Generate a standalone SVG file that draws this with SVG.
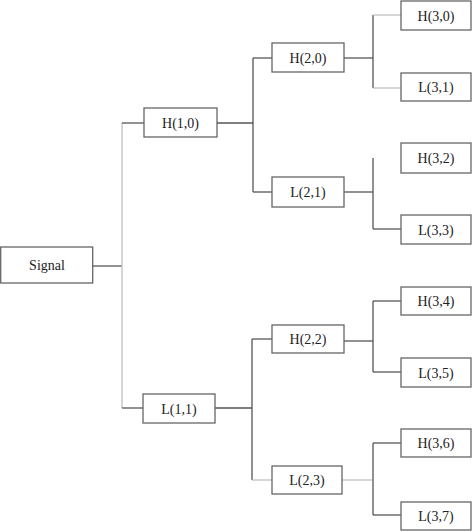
<svg xmlns="http://www.w3.org/2000/svg" width="474" height="532" viewBox="0 0 474 532">
<style>
.box{fill:#fff;stroke:#666;stroke-width:1.3}
.t{font-family:'Liberation Serif','Tinos','DejaVu Serif',serif;font-size:14px;fill:#222;text-anchor:middle}
.c{fill:none;stroke:#555;stroke-width:1.3}
.cl{fill:none;stroke:#bbb;stroke-width:1.2}
</style>
<rect width="474" height="532" fill="#fff"/>
<g id="connectors">
<path class="c" d="M93 266H122"/>
<path class="cl" d="M122 123V408"/>
<path class="c" d="M122 123H144"/>
<path class="c" d="M122 408H143"/>
<path class="c" d="M217 123H253"/>
<path class="c" d="M253 58V192"/>
<path class="c" d="M253 58H272"/>
<path class="c" d="M253 192H272"/>
<path class="c" d="M215 408H252"/>
<path class="c" d="M252 339V480"/>
<path class="c" d="M252 339H272"/>
<path class="cl" d="M252 480H272"/>
<path class="c" d="M344 58H373"/>
<path class="c" d="M373 15V88"/>
<path class="cl" d="M373 15H401"/>
<path class="cl" d="M373 88H401"/>
<path class="c" d="M344 192H373"/>
<path class="c" d="M373 158V229"/>
<path class="c" d="M373 229H401"/>
<path class="c" d="M344 341H373"/>
<path class="c" d="M373 301V372"/>
<path class="c" d="M373 301H401"/>
<path class="c" d="M373 372H401"/>
<path class="cl" d="M342 480H373"/>
<path class="c" d="M373 443V515"/>
<path class="c" d="M373 443H401"/>
<path class="c" d="M373 515H401"/>
</g>
<g id="signal"><rect class="box" x="0.7" y="247" width="92" height="36"/><text class="t" x="47" y="270">Signal</text></g>
<g id="h10"><rect class="box" x="144" y="108" width="73" height="29"/><text class="t" x="180.5" y="127.5">H(1,0)</text></g>
<g id="l11"><rect class="box" x="143" y="394" width="72" height="29"/><text class="t" x="179" y="413.5">L(1,1)</text></g>
<g id="h20"><rect class="box" x="272" y="43" width="72" height="29"/><text class="t" x="308" y="62.5">H(2,0)</text></g>
<g id="l21"><rect class="box" x="272" y="177" width="72" height="30"/><text class="t" x="308" y="197">L(2,1)</text></g>
<g id="h22"><rect class="box" x="272" y="325" width="72" height="28"/><text class="t" x="308" y="344">H(2,2)</text></g>
<g id="l23"><rect class="box" x="272" y="466" width="70" height="28"/><text class="t" x="307" y="485">L(2,3)</text></g>
<g id="h30"><rect class="box" x="401" y="1" width="70" height="29"/><text class="t" x="436" y="20.5">H(3,0)</text></g>
<g id="l31"><rect class="box" x="401" y="73" width="70" height="28"/><text class="t" x="436" y="92">L(3,1)</text></g>
<g id="h32"><rect class="box" x="401" y="143" width="70" height="30"/><text class="t" x="436" y="163">H(3,2)</text></g>
<g id="l33"><rect class="box" x="401" y="215" width="70" height="29"/><text class="t" x="436" y="234.5">L(3,3)</text></g>
<g id="h34"><rect class="box" x="401" y="287" width="70" height="28"/><text class="t" x="436" y="306">H(3,4)</text></g>
<g id="l35"><rect class="box" x="401" y="358" width="70" height="29"/><text class="t" x="436" y="377.5">L(3,5)</text></g>
<g id="h36"><rect class="box" x="401" y="429" width="70" height="28"/><text class="t" x="436" y="448">H(3,6)</text></g>
<g id="l37"><rect class="box" x="401" y="502" width="70" height="28"/><text class="t" x="436" y="521">L(3,7)</text></g>
</svg>
